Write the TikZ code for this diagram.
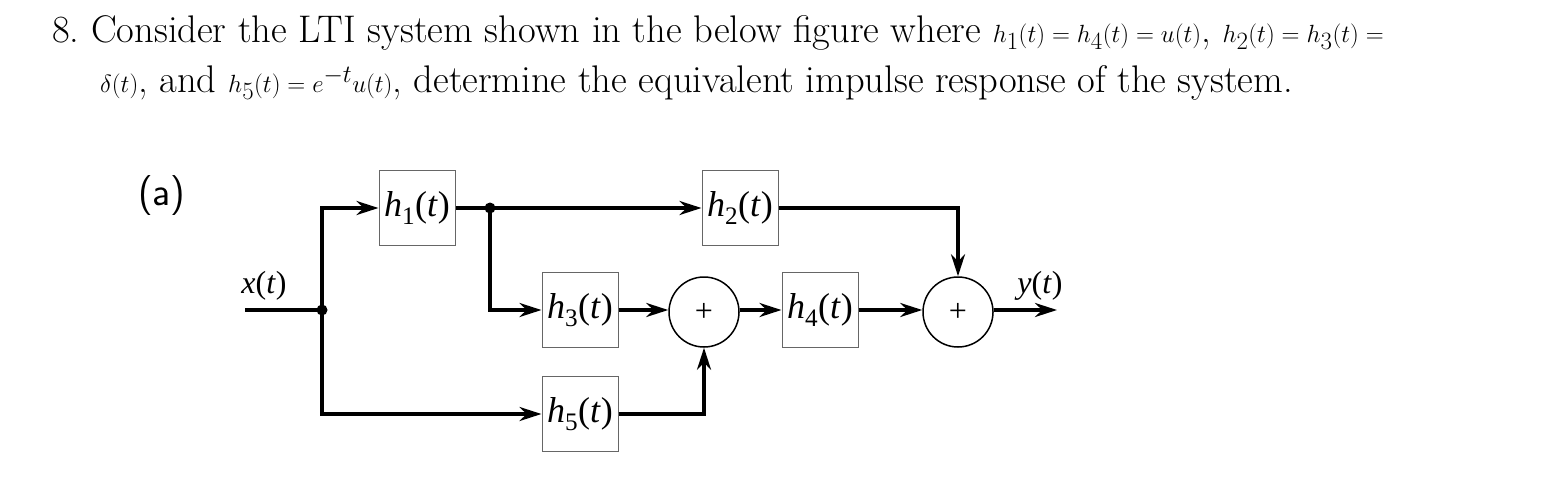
\documentclass[tikz,border=0pt]{standalone}
\usepackage{fontspec}
\newfontfamily\diagfont{Liberation Serif}
\newcommand{\hh}[1]{{\diagfont\itshape h}{\diagfont\textsubscript{#1}(\itshape t\/\upshape)}}
\usetikzlibrary{arrows.meta}
\begin{document}
\begin{tikzpicture}[x=1pt,y=-1pt,
  blk/.style={draw=black!60,line width=1pt,minimum width=76pt,minimum height=75pt,inner sep=0pt,font=\fontsize{36}{36}\selectfont},
  sumn/.style={draw,circle,line width=1.5pt,minimum size=70pt,inner sep=0pt,font=\fontsize{32}{32}\selectfont},
  wire/.style={line width=3.5pt},
  arr/.style={wire,-{Stealth[length=22pt,width=14pt]}},
  dot/.style={circle,fill,inner sep=0pt,minimum size=11pt},
  lbl/.style={font=\fontsize{32}{32}\selectfont}]
\useasboundingbox (0,0) rectangle (1554,482);
\node[anchor=base west,inner sep=0pt,font=\fontsize{38.5}{44}\selectfont] (l1) at (52,42) {8.\ Consider the LTI system shown in the below figure where $h_1(t)=h_4(t)=u(t)$, $h_2(t)=h_3(t)=$};
\node[anchor=base west,inner sep=0pt,font=\fontsize{38.5}{44}\selectfont] (l2) at (100,92) {$\delta(t)$, and $h_5(t)=e^{-t}u(t)$, determine the equivalent impulse response of the system.};
\node[anchor=base west,inner sep=0pt,font=\fontsize{40}{40}\sffamily\selectfont] (a) at (138,205) {(a)};
\node[blk] (h1) at (417,208) {\hh{1}};
\node[blk] (h2) at (740,208) {\hh{2}};
\node[blk] (h3) at (580,310) {\hh{3}};
\node[blk] (h4) at (820,310) {\hh{4}};
\node[blk] (h5) at (580,414) {\hh{5}};
\node[sumn] (s1) at (704,312) {{\diagfont +}};
\node[sumn] (s2) at (958,312) {{\diagfont +}};
\coordinate (in) at (245,310);
\node[dot] (j1) at (322,310) {};
\node[dot] (j2) at (490,208) {};
\coordinate (out) at (1057,310);
\node[lbl] (xl) at (264,286) {{\diagfont\itshape x}{\diagfont(\itshape t\/\upshape)}};
\node[lbl] (yl) at (1040,286) {{\diagfont\itshape y}{\diagfont(\itshape t\/\upshape)}};
\draw[wire] (in) -- (j1.center);
\draw[arr] (j1.center) |- (h1.west);
\draw[arr] (j1.center) |- (h5.west);
\draw[wire] (h1.east) -- (j2.center);
\draw[arr] (j2.center) -- (h2.west);
\draw[arr] (j2.center) |- (h3.west);
\draw[arr] (h3.east) -- (h3.east -| s1.west);
\draw[arr] (h5.east) -| (s1.south);
\draw[arr] (s1.east |- h4.west) -- (h4.west);
\draw[arr] (h4.east) -- (h4.east -| s2.west);
\draw[arr] (h2.east) -| (s2.north);
\draw[arr] (s2.east |- out) -- (out);
\end{tikzpicture}
\end{document}
